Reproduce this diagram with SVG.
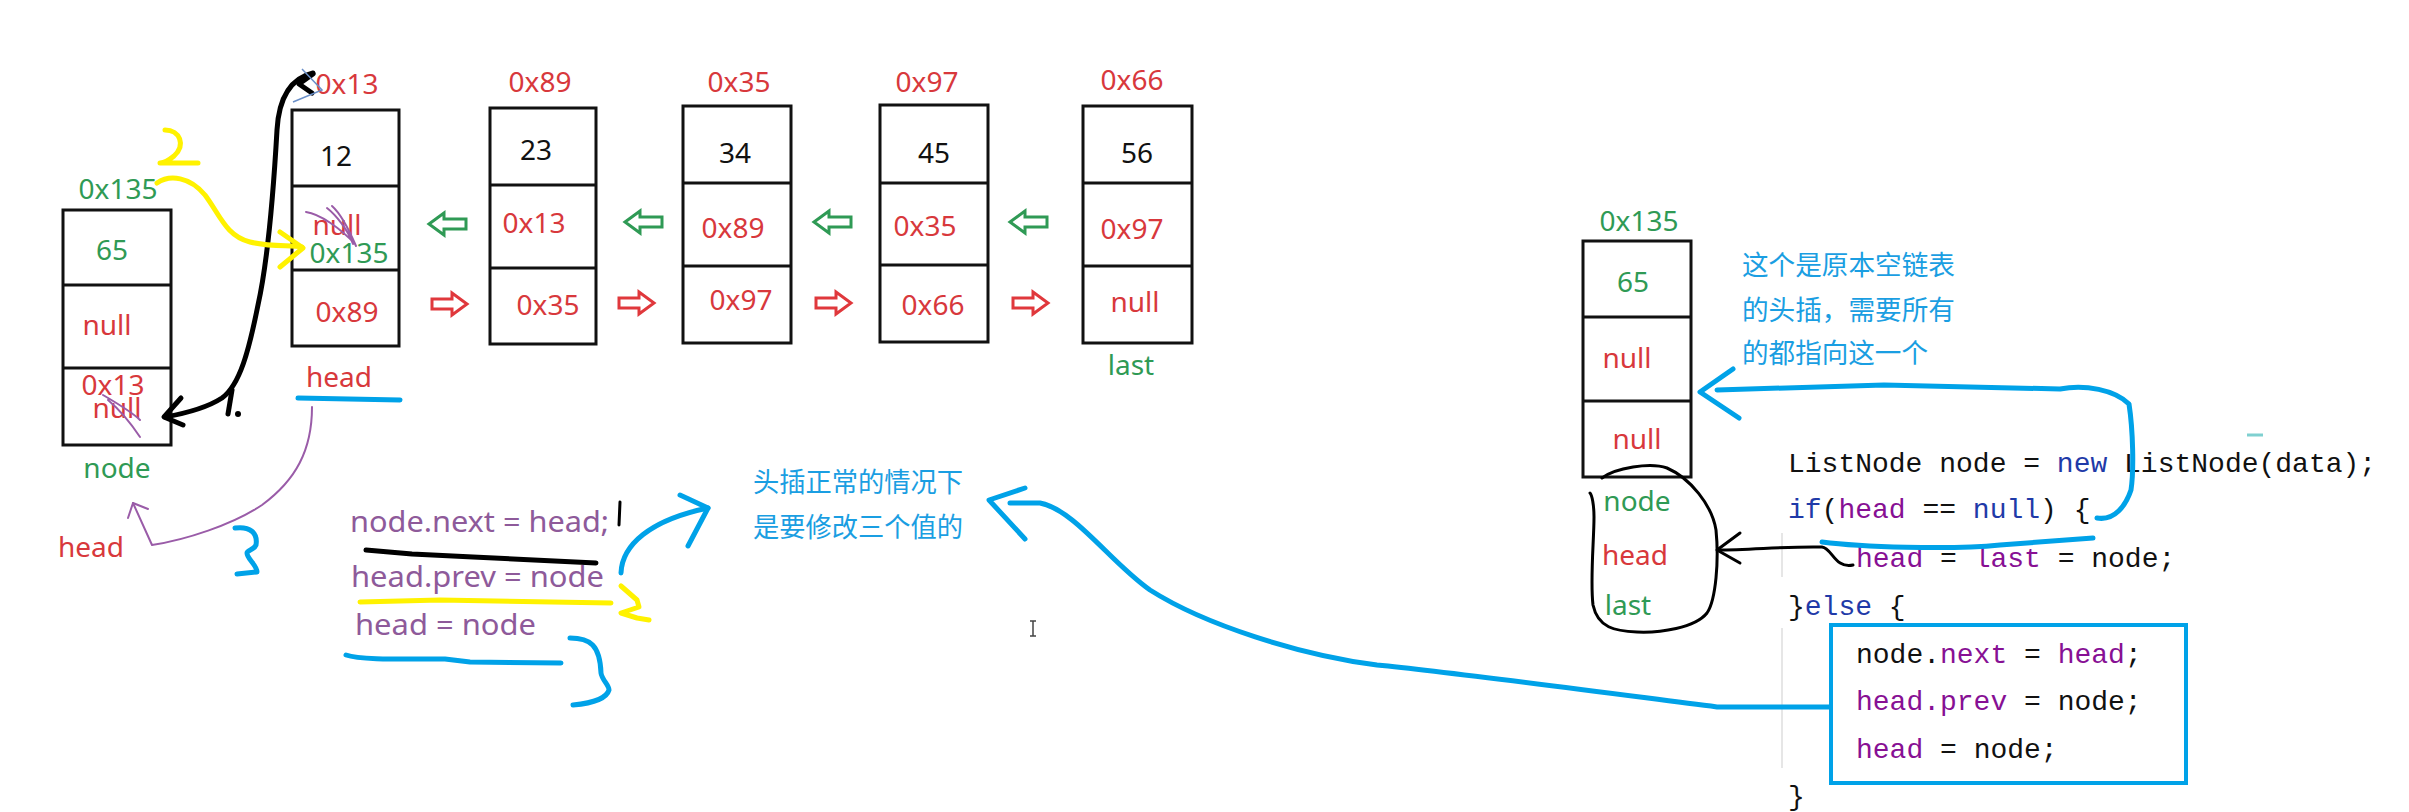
<svg xmlns="http://www.w3.org/2000/svg" xmlns:xlink="http://www.w3.org/1999/xlink" width="2409" height="812" viewBox="0 0 2409 812">
<style>
.box{fill:none;stroke:#111;stroke-width:3}
.lb{font-family:"Noto Sans","Open Sans","Liberation Sans",sans-serif;font-size:28px;text-anchor:middle}
.r{fill:#d8383c}.g{fill:#2f9a55}.k{fill:#111}
.st{font-family:"Noto Sans","Open Sans","Liberation Sans",sans-serif;font-size:29px;fill:#8e5a9a}
.cn{font-family:"Noto Sans CJK SC","Noto Sans",sans-serif;font-size:27px;fill:#1a9ee2}
.code{font-family:"Liberation Mono","DejaVu Sans Mono",monospace;font-size:28px;fill:#111}
.kw{fill:#1f3aa8}.pu{fill:#871094}
.bl{fill:none;stroke:#00a2e8;stroke-width:5;stroke-linecap:round;stroke-linejoin:round}
.ye{fill:none;stroke:#fff200;stroke-width:5;stroke-linecap:round;stroke-linejoin:round}
.bk{fill:none;stroke:#000;stroke-width:5;stroke-linecap:round;stroke-linejoin:round}
.bk3{fill:none;stroke:#000;stroke-width:3;stroke-linecap:round;stroke-linejoin:round}
.pp{fill:none;stroke:#9a5ca8;stroke-width:2;stroke-linecap:round;stroke-linejoin:round}
.ga{fill:#fff;stroke:#2f9a55;stroke-width:3;stroke-linejoin:miter}
.ra{fill:#fff;stroke:#e0383c;stroke-width:3;stroke-linejoin:miter}
</style>
<defs>
<path id="la" d="M0,0 L15,-11 L15,-5 L37,-5 L37,5 L15,5 L15,11 Z"/>
<path id="rarr" d="M0,-5 L20,-5 L20,-11 L35,0 L20,11 L20,5 L0,5 Z"/>
</defs>
<rect width="2409" height="812" fill="#fff"/>

<g id="node-new">
<rect class="box" x="63" y="210" width="108" height="235"/>
<line class="box" x1="63" y1="285" x2="171" y2="285"/>
<line class="box" x1="63" y1="368" x2="171" y2="368"/>
<text class="lb g" x="118" y="199">0x135</text>
<text class="lb g" x="112" y="260">65</text>
<text class="lb r" x="107" y="335">null</text>
<text class="lb r" x="113" y="395">0x13</text>
<text class="lb r" x="117" y="418">null</text>
<text class="lb g" x="117" y="478">node</text>
<text class="lb r" x="91" y="557">head</text>
</g>

<g id="node-12">
<rect class="box" x="292" y="110" width="107" height="236"/>
<line class="box" x1="292" y1="186" x2="399" y2="186"/>
<line class="box" x1="292" y1="270" x2="399" y2="270"/>
<text class="lb r" x="347" y="94">0x13</text>
<text class="lb k" x="336" y="166">12</text>
<text class="lb r" x="337" y="235">null</text>
<text class="lb g" x="349" y="263">0x135</text>
<text class="lb r" x="347" y="322">0x89</text>
<text class="lb r" x="339" y="387">head</text>
</g>

<g id="node-23">
<rect class="box" x="490" y="108" width="106" height="236"/>
<line class="box" x1="490" y1="185" x2="596" y2="185"/>
<line class="box" x1="490" y1="268" x2="596" y2="268"/>
<text class="lb r" x="540" y="92">0x89</text>
<text class="lb k" x="536" y="160">23</text>
<text class="lb r" x="534" y="233">0x13</text>
<text class="lb r" x="548" y="315">0x35</text>
</g>

<g id="node-34">
<rect class="box" x="683" y="106" width="108" height="237"/>
<line class="box" x1="683" y1="183" x2="791" y2="183"/>
<line class="box" x1="683" y1="266" x2="791" y2="266"/>
<text class="lb r" x="739" y="92">0x35</text>
<text class="lb k" x="735" y="163">34</text>
<text class="lb r" x="733" y="238">0x89</text>
<text class="lb r" x="741" y="310">0x97</text>
</g>

<g id="node-45">
<rect class="box" x="880" y="105" width="108" height="237"/>
<line class="box" x1="880" y1="183" x2="988" y2="183"/>
<line class="box" x1="880" y1="265" x2="988" y2="265"/>
<text class="lb r" x="927" y="92">0x97</text>
<text class="lb k" x="934" y="163">45</text>
<text class="lb r" x="925" y="236">0x35</text>
<text class="lb r" x="933" y="315">0x66</text>
</g>

<g id="node-56">
<rect class="box" x="1083" y="106" width="109" height="237"/>
<line class="box" x1="1083" y1="183" x2="1192" y2="183"/>
<line class="box" x1="1083" y1="266" x2="1192" y2="266"/>
<text class="lb r" x="1132" y="90">0x66</text>
<text class="lb k" x="1137" y="163">56</text>
<text class="lb r" x="1132" y="239">0x97</text>
<text class="lb r" x="1135" y="312">null</text>
<text class="lb g" x="1131" y="375">last</text>
</g>

<g id="node-empty">
<rect class="box" x="1583" y="241" width="108" height="236"/>
<line class="box" x1="1583" y1="317" x2="1691" y2="317"/>
<line class="box" x1="1583" y1="401" x2="1691" y2="401"/>
<text class="lb g" x="1639" y="231">0x135</text>
<text class="lb g" x="1633" y="292">65</text>
<text class="lb r" x="1627" y="368">null</text>
<text class="lb r" x="1637" y="449">null</text>
<text class="lb g" x="1637" y="511">node</text>
<text class="lb r" x="1635" y="565">head</text>
<text class="lb g" x="1628" y="615">last</text>
</g>

<g id="statements">
<text class="st" x="350" y="532" textLength="259" lengthAdjust="spacingAndGlyphs">node.next = head;</text>
<text class="st" x="351" y="587" textLength="253" lengthAdjust="spacingAndGlyphs">head.prev = node</text>
<text class="st" x="355" y="635" textLength="181" lengthAdjust="spacingAndGlyphs">head = node</text>
</g>

<g id="note-normal">
<text class="cn" x="753" y="492" textLength="210" lengthAdjust="spacingAndGlyphs">头插正常的情况下</text>
<text class="cn" x="753" y="537" textLength="210" lengthAdjust="spacingAndGlyphs">是要修改三个值的</text>
</g>

<g id="note-empty">
<text class="cn" x="1742" y="275" textLength="213" lengthAdjust="spacingAndGlyphs">这个是原本空链表</text>
<text class="cn" x="1742" y="320" textLength="213" lengthAdjust="spacingAndGlyphs">的头插，需要所有</text>
<text class="cn" x="1742" y="363" textLength="186" lengthAdjust="spacingAndGlyphs">的都指向这一个</text>
</g>

<g id="code">
<line x1="1782" y1="533" x2="1782" y2="577" stroke="#e6e6e6" stroke-width="2"/>
<line x1="1782" y1="628" x2="1782" y2="768" stroke="#e6e6e6" stroke-width="2"/>
<text class="code" xml:space="preserve" x="1788" y="472">ListNode node = <tspan class="kw">new</tspan> ListNode(data);</text>
<text class="code" xml:space="preserve" x="1788" y="518"><tspan class="kw">if</tspan>(<tspan class="pu">head</tspan> == <tspan class="kw">null</tspan>) {</text>
<text class="code" xml:space="preserve" x="1856" y="567"><tspan class="pu">head</tspan> = <tspan class="pu">last</tspan> = node;</text>
<text class="code" xml:space="preserve" x="1788" y="615">}<tspan class="kw">else</tspan> {</text>
<text class="code" xml:space="preserve" x="1856" y="663">node.<tspan class="pu">next</tspan> = <tspan class="pu">head</tspan>;</text>
<text class="code" xml:space="preserve" x="1856" y="710"><tspan class="pu">head.prev</tspan> = node;</text>
<text class="code" xml:space="preserve" x="1856" y="758"><tspan class="pu">head</tspan> = node;</text>
<text class="code" xml:space="preserve" x="1788" y="805">}</text>
<rect x="1831" y="625" width="355" height="158" fill="none" stroke="#00a2e8" stroke-width="4"/>
</g>

<g id="connectors">
<use href="#la" class="ga" x="429" y="224"/>
<use href="#la" class="ga" x="625" y="222"/>
<use href="#la" class="ga" x="814" y="222"/>
<use href="#la" class="ga" x="1010" y="222"/>
<use href="#rarr" class="ra" x="432" y="304"/>
<use href="#rarr" class="ra" x="619" y="303"/>
<use href="#rarr" class="ra" x="816" y="303"/>
<use href="#rarr" class="ra" x="1013" y="303"/>

<path class="bk" d="M313,73 C292,78 279,95 277,130 C273,200 268,260 258,305 C249,350 240,385 222,398 C205,409 182,414 165,417"/>
<path class="bk" d="M313,74 L299,84 L312,93"/>
<path class="bk" d="M181,398 L164,417 L183,425"/>
<path d="M302,69 L322,90 L293,102" fill="none" stroke="#6a8fc8" stroke-width="1.5"/>
<path class="bk" d="M232,390 L228,414"/>
<circle cx="238" cy="414" r="3" fill="#000"/>

<path class="ye" d="M157,183 C170,174 190,177 205,195 C220,215 226,236 250,242 C270,247 290,245 302,247"/>
<path class="ye" d="M280,232 L303,248 L280,267"/>
<path class="ye" d="M165,130 C180,130 186,145 174,156 C168,161 163,163 160,163 L198,163"/>

<path class="pp" d="M306,212 C320,214 340,228 355,244 M327,208 C336,215 348,230 353,244 M332,206 C341,214 350,232 356,246"/>
<path class="pp" d="M103,395 C115,402 132,412 140,420 M108,400 C120,410 132,425 140,437"/>

<path class="pp" d="M312,407 C312,450 296,480 262,505 C232,525 185,540 152,545 L133,503"/>
<path class="pp" d="M128,518 L133,503 L148,509"/>
<path class="bl" stroke-width="4" d="M298,398 L400,400"/>
<path class="bl" d="M235,528 C250,526 258,533 256,545 C254,550 247,550 247,553 C247,559 257,565 257,572 L237,574"/>

<path class="bk3" d="M620,502 L619,525"/>
<path class="bk" d="M366,550 L412,554 L473,557 L596,563"/>
<path class="ye" d="M360,602 L440,600 L611,603"/>
<path class="ye" stroke-width="3" d="M621,586 L637,600 L639,607 L621,613 L637,618 L649,620"/>
<path class="bl" d="M346,655 C360,660 400,659 445,659 L470,662 L561,663"/>
<path class="bl" stroke-width="4" d="M570,638 C590,638 600,645 601,673 C602,680 609,685 609,690 C607,697 596,703 573,705"/>
<path class="bl" d="M621,573 C622,545 650,520 708,508"/>
<path class="bl" d="M680,495 L708,508 L688,546"/>

<path class="bl" d="M1830,707 L1717,707 C1600,692 1450,672 1377,665 C1300,655 1205,625 1150,590 C1110,562 1075,510 1040,503 L1010,503"/>
<path class="bl" d="M1025,488 L989,500 L1025,539"/>

<path class="bl" d="M1717,390 L1884,385 L2060,389 C2085,384 2115,390 2129,404 C2133,430 2134,470 2131,490 C2126,505 2115,521 2097,518"/>
<path class="bl" d="M1733,369 L1700,392 L1739,418"/>
<path class="bl" d="M1822,542 C1860,547 1950,550 2000,545 L2093,538"/>

<path class="bk3" d="M1602,478 C1615,468 1650,462 1667,468 C1690,478 1712,505 1716,530 C1719,560 1716,600 1707,613 C1695,628 1660,633 1637,632 C1615,631 1598,628 1593,605 C1590,580 1594,540 1594,517 C1594,505 1592,495 1590,493"/>
<path class="bk3" d="M1853,565 C1835,569 1832,548 1822,547 C1790,546 1750,550 1718,550"/>
<path class="bk3" d="M1740,533 L1717,550 L1740,563"/>

<path d="M2247,435 L2263,435" stroke="#7fd0d0" stroke-width="3"/>
<path d="M1033,621 L1033,636 M1030,621 L1036,621 M1030,636 L1036,636" stroke="#444" stroke-width="1.5" fill="none"/>
</g>
</svg>
